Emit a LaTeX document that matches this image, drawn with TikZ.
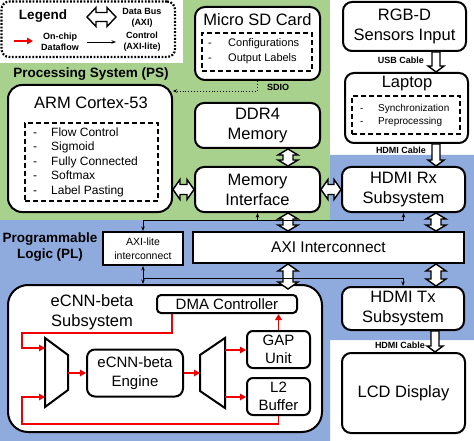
\documentclass[tikz,border=0pt]{standalone}
\usepackage{fontspec}
\setmainfont{Liberation Sans}
\usetikzlibrary{arrows.meta,calc}
\definecolor{psgreen}{HTML}{A9D18E}
\definecolor{plblue}{HTML}{8FAADC}
\definecolor{flowred}{HTML}{F00000}
\newcommand\fsBig{\fontsize{16.5}{20}\selectfont}
\newcommand\fsMid{\fontsize{15}{18.5}\selectfont}
\newcommand\fsList{\fontsize{12}{14.5}\selectfont}
\newcommand\fsSd{\fontsize{11}{15}\selectfont}
\newcommand\fsLap{\fontsize{10}{13}\selectfont}
\newcommand\fsHead{\fontsize{13.5}{16.5}\selectfont\bfseries}
\newcommand\fsTag{\fontsize{9}{11}\selectfont\bfseries}
\newcommand\fsLite{\fontsize{10.5}{14}\selectfont}
\begin{document}
\begin{tikzpicture}[x=1pt,y=-1pt,
  box/.style={draw, line width=2pt, fill=white, rounded corners=9pt, align=center, inner sep=0pt},
  dbox/.style={draw, line width=2pt, dash pattern=on 5pt off 3pt, inner sep=0pt},
  items/.style={anchor=west, align=left, inner sep=0pt},
  flow/.style={draw=flowred, line width=1.9pt, -{Triangle[length=6pt,width=6.5pt]}},
  ctl/.style={draw, line width=0.8pt, >={Stealth[length=4.5pt,width=3.5pt]}},
  sdioline/.style={draw, line width=0.9pt, dotted, ->, >={Stealth[length=4pt,width=3.5pt]}},
  fatdbl/.style n args={3}{draw, line width=1.4pt, fill=white, to path={
    let \p1=(\tikztostart), \p2=(\tikztotarget),
        \n1={atan2(\y2-\y1,\x2-\x1)}, \n2={veclen(\x2-\x1,\y2-\y1)} in
    {[shift={(\p1)}, rotate=\n1, x=1pt, y=1pt]
      (0,0) -- (#1,#2) -- (#1,#3) -- (\n2-#1,#3) -- (\n2-#1,#2) -- (\n2,0)
      -- (\n2-#1,-#2) -- (\n2-#1,-#3) -- (#1,-#3) -- (#1,-#2) -- cycle}}},
  fatone/.style n args={3}{draw, line width=1.4pt, fill=white, to path={
    let \p1=(\tikztostart), \p2=(\tikztotarget),
        \n1={atan2(\y2-\y1,\x2-\x1)}, \n2={veclen(\x2-\x1,\y2-\y1)} in
    {[shift={(\p1)}, rotate=\n1, x=1pt, y=1pt]
      (0,#3) -- (\n2-#1,#3) -- (\n2-#1,#2) -- (\n2,0) -- (\n2-#1,-#2)
      -- (\n2-#1,-#3) -- (0,-#3) -- cycle}}}
]
\useasboundingbox (0,0) rectangle (474,441);
% background regions
\fill[white] (0,0) rectangle (474,441);
\fill[psgreen] (0,0) rectangle (330,220);
\fill[white] (0,0) rectangle (183,63);
\fill[plblue] (0,220) -- (330,220) -- (330,155) -- (474,155) -- (474,340)
  -- (330,340) -- (330,441) -- (0,441) -- cycle;

% legend
\node[draw, line width=2.2pt, dash pattern=on 1.8pt off 1.6pt, rounded corners=8pt,
  minimum width=173.5, minimum height=55.5, inner sep=0pt] (legend) at (88.25,29.25) {};
\node[font=\fsHead] (lgtitle) at (43,16) {Legend};
\node[font=\fsTag, align=center] (lgbus) at (142,17.5) {Data Bus\\(AXI)};
\node[font=\fsTag, align=center] (lgflow) at (60,41.5) {On-chip\\Dataflow};
\node[font=\fsTag, align=center] (lgctl) at (142,41.5) {Control\\(AXI-lite)};
\coordinate (lgA1) at (87,17);
\coordinate (lgA2) at (116,17);
\coordinate (lgR1) at (14,41);
\coordinate (lgR2) at (33,41);
\coordinate (lgC1) at (87,42);
\coordinate (lgC2) at (116,42);
\draw[fatdbl={9}{9.5}{4.5}] (lgA1) to (lgA2);
\draw[flow] (lgR1) -- (lgR2);
\draw[ctl,->] (lgC1) -- (lgC2);

% labels
\node[font=\fsHead] (pslabel) at (91,74) {Processing System (PS)};
\node[font=\fsHead, align=center] (pllabel) at (50,247) {Programmable\\Logic (PL)};
\node[font=\fsTag] (usb) at (401,60) {USB Cable};
\node[font=\fsTag] (hdmic1) at (401,150) {HDMI Cable};
\node[font=\fsTag] (hdmic2) at (400,345) {HDMI Cable};
\node[font=\fsTag] (sdio) at (278,87) {SDIO};

% Micro SD
\node[box, rounded corners=10pt, minimum width=125, minimum height=73] (sd) at (257.5,43.5) {};
\node[font=\fsBig] (sdtitle) at (257.5,20) {Micro SD Card};
\node[dbox, minimum width=110, minimum height=38] (sdlist) at (257,52) {};
\node[items, font=\fsSd] (sditems) at (208,51.5)
  {\makebox[20pt][l]{-}Configurations\\\makebox[20pt][l]{-}Output Labels};

% ARM
\node[box, rounded corners=14pt, minimum width=164, minimum height=127] (arm) at (90,148.5) {};
\node[font=\fsBig] (armtitle) at (91,103) {ARM Cortex-53};
\node[dbox, minimum width=133, minimum height=78] (armlist) at (91.5,162) {};
\node[items, font=\fsList] (armitems) at (33,162)
  {\makebox[18pt][l]{-}Flow Control\\\makebox[18pt][l]{-}Sigmoid\\\makebox[18pt][l]{-}Fully Connected\\\makebox[18pt][l]{-}Softmax\\\makebox[18pt][l]{-}Label Pasting};

% memory
\node[box, font=\fsBig, minimum width=125, minimum height=45] (ddr) at (257.5,125.5) {DDR4\\Memory};
\node[box, font=\fsBig, minimum width=125, minimum height=45] (memif) at (257.5,189.5) {Memory\\Interface};

% right column
\node[box, font=\fsBig, minimum width=123, minimum height=49] (rgbd) at (404.5,26.5) {RGB-D\\Sensors Input};
\node[box, minimum width=123, minimum height=70] (laptop) at (406.5,108) {};
\node[font=\fsBig] (laptitle) at (407,84) {Laptop};
\node[dbox, minimum width=108, minimum height=38] (laplist) at (406,115) {};
\node[items, font=\fsLap] (lapitems) at (360,115.5)
  {\makebox[18pt][l]{-}Synchronization\\\makebox[18pt][l]{-}Preprocessing};
\node[box, font=\fsBig, minimum width=123, minimum height=45] (hdmirx) at (403.5,189.5) {HDMI Rx\\Subsystem};

% PL
\node[box, rounded corners=0pt, font=\fsLite, minimum width=80, minimum height=33] (axilite) at (143,248.5) {AXI-lite\\interconnect};
\node[box, rounded corners=0pt, font=\fontsize{15.5}{18}\selectfont, minimum width=271, minimum height=31] (axi) at (328.5,247.5) {AXI Interconnect};
\node[box, font=\fsBig, minimum width=122, minimum height=43] (hdmitx) at (403,308.5) {HDMI Tx\\Subsystem};
\node[box, font=\fsBig, minimum width=123, minimum height=80] (lcd) at (403.5,393) {LCD Display};

% eCNN subsystem
\node[box, rounded corners=20pt, minimum width=314, minimum height=147] (ecnn) at (165,358.5) {};
\node[font=\fsBig, align=center] (ecnntitle) at (92,312.5) {eCNN-beta\\Subsystem};
\node[box, rounded corners=4pt, font=\fsMid, minimum width=140, minimum height=18] (dma) at (227,304) {DMA Controller};
\node[box, rounded corners=8pt, font=\fsMid, minimum width=96, minimum height=47] (engine) at (135,373) {eCNN-beta\\Engine};
\node[box, rounded corners=6pt, font=\fsMid, minimum width=63, minimum height=37] (gap) at (278.5,349.5) {GAP\\Unit};
\node[box, rounded corners=6pt, font=\fsMid, minimum width=63, minimum height=37] (l2) at (278.5,396.5) {L2\\Buffer};
\draw[line width=2pt, fill=white] (45,338) -- (68,355) -- (68,390) -- (45,407) -- cycle;
\draw[line width=2pt, fill=white] (200,355) -- (225,338) -- (225,408) -- (200,391) -- cycle;
\coordinate (muxinA) at (45,348);
\coordinate (muxinB) at (45,397);
\coordinate (muxout) at (68,373);
\coordinate (dmxin) at (200,373);
\coordinate (dmxA) at (225,350);
\coordinate (dmxB) at (225,397);
\coordinate (loopTop) at (22,333);
\coordinate (loopBot) at (22,424);

% red dataflow
\draw[flow] ([xshift=-55pt]dma.south) |- (loopTop) |- (muxinA);
\draw[flow] (l2.south) |- (loopBot) |- (muxinB);
\draw[flow] (muxout) -- (muxout -| engine.west);
\draw[flow] (engine.east |- dmxin) -- (dmxin);
\draw[flow] (dmxA) -- (dmxA -| gap.west);
\draw[flow] (dmxB) -- (dmxB -| l2.west);
\draw[flow] (gap.north) -- (gap.north |- dma.south);

% fat data-bus arrows
\draw[fatdbl={7}{10}{5}] (arm.east |- memif.west) to (memif.west);
\draw[fatdbl={6}{10}{5}] ([xshift=30.5pt]ddr.south) to ([xshift=30.5pt]memif.north);
\draw[fatdbl={7}{10}{5}] (memif.east) to (hdmirx.west);
\draw[fatdbl={6}{10}{5}] ([xshift=30.5pt]memif.south) to ([xshift=30.5pt]memif.south |- axi.north);
\draw[fatdbl={6}{10}{5}] ([xshift=32.5pt]hdmirx.south) to ([xshift=32.5pt]hdmirx.south |- axi.north);
\draw[fatdbl={7}{10}{5}] ([xshift=-40.5pt]axi.south) to ([xshift=-40.5pt,yshift=-5pt]axi.south |- ecnn.north);
\draw[fatdbl={7}{10}{5}] ([xshift=107.5pt]axi.south) to ([xshift=107.5pt]axi.south |- hdmitx.north);
\draw[fatone={6}{8}{4}] ([xshift=31.5pt]rgbd.south) to ([xshift=31.5pt]rgbd.south |- laptop.north);
\draw[fatone={6}{8}{4}] ([xshift=29.5pt]laptop.south) to ([xshift=29.5pt]laptop.south |- hdmirx.north);
\draw[fatone={6}{8}{4}] ([xshift=32pt]hdmitx.south) to ([xshift=32pt]hdmitx.south |- lcd.north);

% control (AXI-lite) lines
\coordinate (cbusA) at (143,220);
\coordinate (cbusB) at (143,278);
\draw[ctl,<->] (axilite.north) -- (cbusA) -| (hdmirx.south);
\draw[ctl,->] (memif.south |- cbusA) -- (memif.south);
\draw[ctl,<->] (axilite.south) -- (axilite.south |- ecnn.north);
\draw[ctl,->] (cbusB) -| (hdmitx.north);

% SDIO
\coordinate (sdioY) at (0,91);
\draw[sdioline] (sd.south) |- (arm.east |- sdioY);
\end{tikzpicture}
\end{document}
